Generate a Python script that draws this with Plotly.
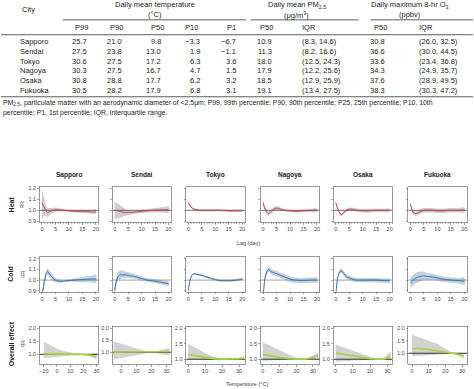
import plotly.graph_objects as go

# ---------------- table data ----------------
cities = ["Sapporo", "Sendai", "Tokyo", "Nagoya", "Osaka", "Fukuoka"]
temp_p99 = [25.7, 27.5, 30.6, 30.3, 30.8, 30.5]
temp_p90 = [21.0, 23.8, 27.5, 27.5, 28.8, 28.2]
temp_p50 = [9.8, 13.0, 17.2, 16.7, 17.7, 17.9]
temp_p10 = [-3.3, 1.9, 6.3, 4.7, 6.2, 6.8]
temp_p1 = [-6.7, -1.1, 3.6, 1.5, 3.2, 3.1]
pm_p50 = [10.9, 11.3, 18.0, 17.9, 18.5, 19.1]
pm_iqr = ["(8.3, 14.6)", "(8.2, 16.6)", "(12.5, 24.3)", "(12.2, 25.6)", "(12.9, 25.9)", "(13.4, 27.5)"]
o3_p50 = [30.8, 36.6, 33.6, 34.3, 37.6, 38.3]
o3_iqr = ["(26.0, 32.5)", "(30.0, 44.5)", "(23.4, 36.8)", "(24.9, 35.7)", "(28.9, 49.5)", "(30.3, 47.2)"]

# ---------------- lag-response data ----------------
lags = [0, 1, 2, 3, 4, 5, 6, 8, 10, 12, 15, 18, 20]

heat_rr = {
    "Sapporo": [1.07, 1.02, 0.98, 0.99, 1.0, 1.005, 1.005, 1.0, 0.995, 0.99, 0.99, 0.985, 0.985],
    "Sendai":  [1.0, 0.995, 0.99, 0.985, 0.98, 0.98, 0.98, 0.985, 0.99, 0.995, 1.0, 1.005, 1.005],
    "Tokyo":   [1.07, 1.03, 1.01, 1.005, 1.0, 1.0, 1.0, 1.0, 1.0, 1.0, 0.995, 0.995, 0.995],
    "Nagoya":  [1.07, 1.0, 0.97, 0.99, 1.01, 1.02, 1.015, 1.0, 0.995, 0.99, 0.995, 1.0, 1.0],
    "Osaka":   [1.07, 1.0, 0.96, 0.98, 1.0, 1.01, 1.01, 1.0, 0.995, 0.995, 1.0, 1.0, 1.0],
    "Fukuoka": [1.06, 0.98, 0.97, 0.98, 0.99, 1.0, 1.0, 1.0, 0.995, 0.995, 1.0, 1.0, 1.005],
}
heat_lo = {
    "Sapporo": [0.92, 0.95, 0.94, 0.96, 0.98, 0.985, 0.99, 0.99, 0.985, 0.98, 0.975, 0.97, 0.965],
    "Sendai":  [0.92, 0.93, 0.93, 0.94, 0.95, 0.955, 0.96, 0.97, 0.975, 0.98, 0.98, 0.98, 0.975],
    "Tokyo":   [1.06, 1.02, 1.0, 0.995, 0.99, 0.99, 0.99, 0.99, 0.99, 0.99, 0.985, 0.985, 0.985],
    "Nagoya":  [1.04, 0.98, 0.95, 0.97, 0.99, 1.0, 1.0, 0.99, 0.985, 0.98, 0.985, 0.985, 0.985],
    "Osaka":   [1.055, 0.985, 0.945, 0.965, 0.985, 0.995, 0.995, 0.985, 0.98, 0.98, 0.985, 0.985, 0.985],
    "Fukuoka": [1.04, 0.96, 0.95, 0.96, 0.97, 0.98, 0.98, 0.98, 0.975, 0.975, 0.98, 0.98, 0.98],
}
heat_hi = {
    "Sapporo": [1.2, 1.09, 1.02, 1.02, 1.02, 1.025, 1.02, 1.01, 1.005, 1.0, 1.005, 1.0, 1.005],
    "Sendai":  [1.08, 1.06, 1.05, 1.03, 1.01, 1.005, 1.0, 1.0, 1.005, 1.01, 1.02, 1.03, 1.035],
    "Tokyo":   [1.08, 1.04, 1.02, 1.015, 1.01, 1.01, 1.01, 1.01, 1.01, 1.01, 1.005, 1.005, 1.005],
    "Nagoya":  [1.1, 1.02, 0.99, 1.01, 1.03, 1.04, 1.03, 1.01, 1.005, 1.0, 1.005, 1.015, 1.015],
    "Osaka":   [1.085, 1.015, 0.975, 0.995, 1.015, 1.025, 1.025, 1.015, 1.01, 1.01, 1.015, 1.015, 1.015],
    "Fukuoka": [1.08, 1.0, 0.99, 1.0, 1.01, 1.02, 1.02, 1.02, 1.015, 1.015, 1.02, 1.02, 1.025],
}

cold_rr = {
    "Sapporo": [0.84, 1.0, 1.08, 1.05, 1.02, 1.0, 0.99, 0.99, 0.995, 1.0, 1.005, 1.01, 1.01],
    "Sendai":  [0.9, 1.02, 1.05, 1.05, 1.05, 1.045, 1.04, 1.03, 1.015, 1.0, 0.99, 0.975, 0.965],
    "Tokyo":   [0.9, 1.03, 1.06, 1.055, 1.05, 1.045, 1.035, 1.02, 1.005, 0.995, 0.995, 1.0, 1.01],
    "Nagoya":  [0.83, 1.05, 1.1, 1.08, 1.07, 1.06, 1.05, 1.03, 1.01, 1.0, 0.995, 1.0, 1.0],
    "Osaka":   [0.83, 1.05, 1.09, 1.06, 1.03, 1.02, 1.01, 1.0, 1.0, 1.0, 1.0, 0.995, 0.995],
    "Fukuoka": [0.97, 1.0, 1.02, 1.03, 1.035, 1.04, 1.035, 1.03, 1.02, 1.01, 1.0, 0.995, 0.99],
}
cold_lo = {
    "Sapporo": [0.8, 0.96, 1.05, 1.02, 0.99, 0.98, 0.975, 0.98, 0.985, 0.985, 0.98, 0.98, 0.975],
    "Sendai":  [0.85, 0.98, 1.01, 1.02, 1.02, 1.02, 1.02, 1.01, 0.995, 0.985, 0.97, 0.955, 0.945],
    "Tokyo":   [0.89, 1.02, 1.05, 1.045, 1.04, 1.035, 1.025, 1.01, 0.995, 0.985, 0.985, 0.99, 1.0],
    "Nagoya":  [0.8, 1.025, 1.075, 1.055, 1.045, 1.035, 1.025, 1.005, 0.985, 0.975, 0.97, 0.975, 0.975],
    "Osaka":   [0.81, 1.03, 1.07, 1.04, 1.01, 1.0, 0.99, 0.98, 0.98, 0.98, 0.98, 0.975, 0.975],
    "Fukuoka": [0.92, 0.95, 0.97, 0.98, 0.99, 1.0, 1.0, 1.0, 0.995, 0.985, 0.975, 0.965, 0.955],
}
cold_hi = {
    "Sapporo": [0.88, 1.04, 1.11, 1.08, 1.05, 1.02, 1.01, 1.0, 1.005, 1.015, 1.03, 1.04, 1.05],
    "Sendai":  [0.95, 1.06, 1.09, 1.09, 1.08, 1.075, 1.07, 1.05, 1.035, 1.02, 1.01, 0.995, 0.99],
    "Tokyo":   [0.91, 1.04, 1.07, 1.065, 1.06, 1.055, 1.045, 1.03, 1.015, 1.005, 1.005, 1.01, 1.02],
    "Nagoya":  [0.86, 1.075, 1.125, 1.105, 1.095, 1.085, 1.075, 1.055, 1.035, 1.025, 1.02, 1.025, 1.025],
    "Osaka":   [0.85, 1.07, 1.11, 1.08, 1.05, 1.04, 1.03, 1.02, 1.02, 1.02, 1.02, 1.015, 1.015],
    "Fukuoka": [1.02, 1.05, 1.07, 1.08, 1.08, 1.08, 1.07, 1.06, 1.045, 1.035, 1.025, 1.02, 1.02],
}

# ---------------- overall exposure-response data ----------------
ov_temp = {
    "Sapporo": [-10, -5, 0, 5, 10, 15, 18, 20, 25, 30],
    "Sendai":  [-5, 0, 5, 10, 15, 20, 25, 30, 32],
    "Tokyo":   [0, 5, 10, 15, 20, 25, 30, 33],
    "Nagoya":  [0, 5, 10, 15, 20, 25, 30, 33],
    "Osaka":   [0, 5, 10, 15, 20, 25, 28, 32],
    "Fukuoka": [0, 5, 10, 15, 20, 25, 28, 31],
}
ov_rr = {
    "Sapporo": [1.02, 1.01, 1.0, 1.0, 1.0, 1.0, 1.0, 1.0, 0.97, 0.92],
    "Sendai":  [1.0, 1.0, 1.0, 1.0, 1.0, 1.0, 1.0, 1.02, 1.03],
    "Tokyo":   [1.15, 1.1, 1.05, 1.02, 1.0, 1.0, 1.02, 1.04],
    "Nagoya":  [1.15, 1.1, 1.06, 1.02, 1.0, 1.0, 1.06, 1.1],
    "Osaka":   [1.2, 1.15, 1.1, 1.05, 1.02, 1.0, 1.0, 1.1],
    "Fukuoka": [1.2, 1.18, 1.15, 1.1, 1.05, 1.0, 0.95, 0.9],
}
ov_lo = {
    "Sapporo": [0.85, 0.88, 0.91, 0.94, 0.96, 0.98, 1.0, 0.99, 0.92, 0.8],
    "Sendai":  [0.7, 0.75, 0.82, 0.88, 0.94, 1.0, 0.95, 0.88, 0.85],
    "Tokyo":   [0.97, 0.98, 0.99, 1.0, 1.0, 0.99, 0.99, 0.99],
    "Nagoya":  [0.95, 0.96, 0.97, 0.98, 0.99, 1.0, 1.01, 1.02],
    "Osaka":   [0.92, 0.93, 0.95, 0.96, 0.98, 1.0, 0.98, 0.97],
    "Fukuoka": [0.88, 0.9, 0.92, 0.94, 0.97, 1.0, 0.88, 0.8],
}
ov_hi = {
    "Sapporo": [1.5, 1.35, 1.22, 1.13, 1.07, 1.03, 1.0, 1.01, 1.03, 1.05],
    "Sendai":  [1.45, 1.35, 1.25, 1.15, 1.07, 1.0, 1.06, 1.15, 1.2],
    "Tokyo":   [1.5, 1.35, 1.2, 1.08, 1.02, 1.01, 1.05, 1.1],
    "Nagoya":  [1.55, 1.42, 1.28, 1.15, 1.04, 1.01, 1.12, 1.22],
    "Osaka":   [1.48, 1.38, 1.27, 1.17, 1.08, 1.0, 1.05, 1.25],
    "Fukuoka": [1.75, 1.62, 1.5, 1.38, 1.18, 1.0, 1.0, 1.0],
}
ov_xrange = {
    "Sapporo": [-13, 31.5], "Sendai": [-5.7, 33.2], "Tokyo": [-1.2, 33.5],
    "Nagoya": [-1.2, 34], "Osaka": [-1.2, 33], "Fukuoka": [-2.3, 33],
}
ov_yrange = {
    "Sapporo": [0.62, 2.08], "Sendai": [0.5, 2.08], "Tokyo": [0.84, 2.06],
    "Nagoya": [0.84, 2.06], "Osaka": [0.84, 2.06], "Fukuoka": [0.56, 2.08],
}
ov_ticks = {
    "Sapporo": [-10, 0, 10, 20, 30], "Sendai": [0, 10, 20, 30], "Tokyo": [0, 10, 20, 30],
    "Nagoya": [0, 10, 20, 30], "Osaka": [0, 10, 20, 30], "Fukuoka": [0, 10, 20, 30],
}

# ---------------- layout helpers ----------------
W, H = 474, 389
FONT = "Liberation Sans, Arial, sans-serif"


def px(x):
    return x / W


def py(y):
    return 1 - y / H


col_x0 = [39, 112, 186, 261, 334, 409]
box_w = 59
row_y = [(187, 223), (258, 293), (328, 366)]

fig = go.Figure()
layout = {}
annotations = []
shapes = []


def ann(x, y, text, size=7.5, xanchor="center", yanchor="middle", bold=False, angle=0, color="#222"):
    if bold:
        text = "<b>" + text + "</b>"
    annotations.append(dict(x=px(x), y=py(y), xref="paper", yref="paper", text=text,
                            showarrow=False, xanchor=xanchor, yanchor=yanchor, textangle=angle,
                            font=dict(size=size, family=FONT, color=color)))


def fmt(v):
    return f"{v:.1f}".replace("-", "\u2212")


# ---------------- table ----------------
ann(155, 4, "Daily mean temperature")
ann(155, 14, "(°C)")
ann(28, 9, "City")
ann(297, 4, "Daily mean PM<sub>2.5</sub>")
ann(297, 14, "(μg/m<sup>3</sup>)")
ann(411, 4, "Daily maximum 8-hr O<sub>3</sub>")
ann(411, 14, "(ppbv)")

for label, xc in [("P99", 81), ("P90", 116), ("P50", 157), ("P10", 191), ("P1", 231)]:
    ann(xc, 27, label)
ann(267, 27, "P50")
ann(300, 27, "IQR", xanchor="left")
ann(381, 27, "P50")
ann(418, 27, "IQR", xanchor="left")

for i, c in enumerate(cities):
    y = 41 + 9.8 * i
    ann(17, y, c, xanchor="left")
    for arr, xr in [(temp_p99, 88), (temp_p90, 124), (temp_p50, 163), (temp_p10, 202), (temp_p1, 238)]:
        ann(xr, y, fmt(arr[i]), xanchor="right")
    ann(274, y, fmt(pm_p50[i]), xanchor="right")
    ann(300, y, pm_iqr[i], xanchor="left")
    ann(388, y, fmt(o3_p50[i]), xanchor="right")
    ann(418, y, o3_iqr[i], xanchor="left")

for x0, x1 in [(62, 246), (251, 359), (371, 474)]:
    shapes.append(dict(type="line", xref="paper", yref="paper", x0=px(x0), x1=px(x1),
                       y0=py(19), y1=py(19), line=dict(color="#333", width=0.8)))
for yy in [34, 96.5]:
    shapes.append(dict(type="line", xref="paper", yref="paper", x0=0, x1=1,
                       y0=py(yy), y1=py(yy), line=dict(color="#333", width=0.8)))

ann(0, 103, "PM<sub>2.5</sub>, particulate matter with an aerodynamic diameter of <2.5μm; P99, 99th percentile; "
    "P90, 90th percentile; P25, 25th percentile; P10, 10th", size=6.9, xanchor="left")
ann(0, 113, "percentile; P1, 1st percentile; IQR, interquartile range.", size=6.9, xanchor="left")

# ---------------- panels ----------------
axis_common = dict(showline=True, mirror=True, linecolor="#555", linewidth=0.6, ticks="outside",
                   ticklen=2, tickwidth=0.5, tickcolor="#555", showgrid=False, zeroline=False,
                   tickfont=dict(size=5.5, family=FONT, color="#444"))

rows = [("heat", heat_rr, heat_lo, heat_hi), ("cold", cold_rr, cold_lo, cold_hi)]
for r, (kind, rrd, lod, hid) in enumerate(rows):
    for c, city in enumerate(cities):
        n = r * 6 + c + 1
        xa, ya = f"x{n}", f"y{n}"
        if kind == "heat":
            band, lc, hl = "rgba(165,165,165,0.55)", "#d8404e", "#333"
        else:
            band, lc, hl = "rgba(140,172,200,0.55)", "#3d72ad", "#777"
        fig.add_trace(go.Scatter(x=lags + lags[::-1], y=hid[city] + lod[city][::-1], fill="toself",
                                 fillcolor=band, line=dict(width=0, shape="spline"), mode="lines",
                                 xaxis=xa, yaxis=ya, hoverinfo="skip", showlegend=False))
        fig.add_trace(go.Scatter(x=[-1, 21], y=[1, 1], mode="lines", line=dict(color=hl, width=0.7),
                                 xaxis=xa, yaxis=ya, showlegend=False))
        fig.add_trace(go.Scatter(x=lags, y=rrd[city], mode="lines", line=dict(color=lc, width=1, shape="spline"),
                                 xaxis=xa, yaxis=ya, showlegend=False))
        y0, y1 = row_y[r]
        layout[f"xaxis{n}"] = dict(axis_common, domain=[px(col_x0[c]), px(col_x0[c] + box_w)],
                                   range=[-0.8, 21], tickvals=[0, 5, 10, 15, 20], anchor=ya,
                                   minor=dict(ticks="outside", dtick=1, ticklen=1, tickcolor="#777"))
        layout[f"yaxis{n}"] = dict(axis_common, domain=[py(y1), py(y0)], range=[0.89, 1.218],
                                   tickvals=[0.9, 1.0, 1.1, 1.2], ticktext=["0.9", "1.0", "1.1", "1.2"],
                                   showticklabels=(c == 0), anchor=xa)

for c, city in enumerate(cities):
    n = 12 + c + 1
    xa, ya = f"x{n}", f"y{n}"
    t = ov_temp[city]
    fig.add_trace(go.Scatter(x=t + t[::-1], y=ov_hi[city] + ov_lo[city][::-1], fill="toself",
                             fillcolor="rgba(255,255,255,0)",
                             fillpattern=dict(shape="|", size=2, solidity=0.6, fgcolor="#666666",
                                              bgcolor="rgba(255,255,255,0)"),
                             line=dict(width=0), mode="lines", xaxis=xa, yaxis=ya,
                             hoverinfo="skip", showlegend=False))
    fig.add_trace(go.Scatter(x=ov_xrange[city], y=[1, 1], mode="lines", line=dict(color="#2b3a2b", width=1),
                             xaxis=xa, yaxis=ya, showlegend=False))
    fig.add_trace(go.Scatter(x=t, y=ov_rr[city], mode="lines", line=dict(color="#a6d43a", width=1.6),
                             xaxis=xa, yaxis=ya, showlegend=False))
    y0, y1 = row_y[2]
    layout[f"xaxis{n}"] = dict(axis_common, domain=[px(col_x0[c]), px(col_x0[c] + box_w)],
                               range=ov_xrange[city], tickvals=ov_ticks[city], anchor=ya,
                               minor=dict(ticks="outside", dtick=5, ticklen=1, tickcolor="#777"))
    layout[f"yaxis{n}"] = dict(axis_common, domain=[py(y1), py(y0)], range=ov_yrange[city],
                               tickvals=[1.0, 1.5, 2.0], ticktext=["1.0", "1.5", "2.0"], anchor=xa)

# titles and labels
for c, city in enumerate(cities):
    ann(col_x0[c] + box_w / 2, 175, city, size=6.5, bold=True)
ann(10, 205, "Heat", size=7, bold=True, angle=-90)
ann(10, 275, "Cold", size=7, bold=True, angle=-90)
ann(10, 345, "Overall effect", size=7, bold=True, angle=-90)
for yy in [205, 275, 345]:
    ann(22, yy, "RR", size=5, angle=-90, color="#444")
ann(249, 244, "Lag (day)", size=5.5, color="#444")
ann(247, 386, "Temperature (°C)", size=5.5, color="#444")

fig.update_layout(width=W, height=H, margin=dict(l=0, r=0, t=0, b=0), paper_bgcolor="white",
                  plot_bgcolor="white", showlegend=False, annotations=annotations, shapes=shapes,
                  font=dict(family=FONT), **layout)
fig.write_html("out.html", config={"displayModeBar": False, "staticPlot": True},
               post_script="document.body.style.margin='0';document.body.style.padding='0';"
                           "document.documentElement.style.overflow='hidden';")
